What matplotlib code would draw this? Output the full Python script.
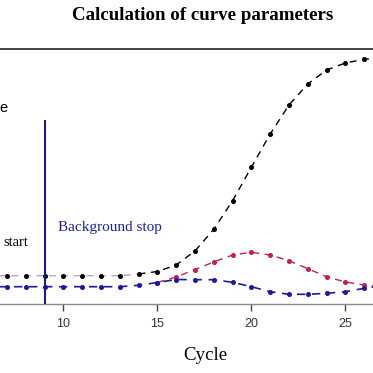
import matplotlib
matplotlib.use("Agg")
import matplotlib.pyplot as plt

cycles = list(range(6, 28))
fit_vals = [28.3, 28.3, 28.3, 28.3, 28.3, 28.3, 28.3, 28.3, 30.0, 32.5, 39.0, 53.0,
            74.7, 103.3, 136.7, 170.0, 199.0, 220.0, 234.0, 241.0, 244.7, 246.5]
red_cycles = list(range(15, 28))
red_vals = [21.5, 27.0, 34.5, 42.0, 49.0, 51.7, 49.0, 43.3, 35.3, 27.3, 22.0, 19.0, 17.0]
blue_vals = [17.3, 17.3, 17.3, 17.3, 17.3, 17.3, 17.3, 17.3, 18.7, 21.5, 24.5, 24.3,
             24.3, 21.7, 17.3, 12.3, 9.7, 9.7, 10.7, 12.3, 15.7, 18.5]
stop_cycle = 9
stop_top = 183
xticks = [10, 15, 20, 25]

serif = ["Liberation Serif", "DejaVu Serif"]
sans = ["Liberation Sans", "DejaVu Sans"]

fig = plt.figure(figsize=(3.73, 3.73), dpi=100)
ax = fig.add_axes([0.0, 1 - 304 / 373, 1.0, (304 - 49) / 373])
ax.set_xlim(6.63, 26.47)
ax.set_ylim(0, 255)

# background segment (grey) and rising part (black) of the curve
split = cycles.index(14)
ax.plot(cycles[:split + 1], fit_vals[:split + 1], color="#b0b0b0", lw=1.0,
        dashes=(5, 4), zorder=2)
ax.plot(cycles[split:], fit_vals[split:], color="black", lw=1.0,
        dashes=(5, 4), zorder=2)
ax.plot(cycles, fit_vals, ls="none", marker="o", ms=2.6, color="black", zorder=3)

ax.plot(red_cycles, red_vals, color="#c8204a", lw=1.0, dashes=(5, 4),
        marker="o", ms=2.6, zorder=2)
ax.plot(cycles, blue_vals, color="#1a1aa0", lw=1.2, dashes=(5, 4),
        marker="o", ms=2.6, zorder=3)

ax.plot([stop_cycle, stop_cycle], [0, stop_top], color="#1c1c8c", lw=1.5, zorder=4)

for s in ["left", "right"]:
    ax.spines[s].set_visible(False)
ax.spines["bottom"].set_color("#8a8a8a")
ax.spines["bottom"].set_linewidth(1.0)
ax.spines["top"].set_color("#222222")
ax.spines["top"].set_linewidth(1.2)

ax.set_yticks([])
ax.set_xticks(xticks)
ax.set_xticklabels([str(t) for t in xticks], fontfamily=sans, fontsize=9, color="#333333")
ax.tick_params(axis="x", direction="out", length=5, width=1, color="#444444", pad=5)

ax.text(9.7, 77, "Background stop", color="#2020a0", fontfamily=serif,
        fontsize=11, va="center", ha="left")
ax.text(6.8, 62, "start", color="black", fontfamily=serif,
        fontsize=10.5, va="center", ha="left")
ax.text(6.6, 196, "e", color="black", fontfamily=sans, fontsize=10.5,
        va="center", ha="left")

fig.text(203 / 373, 1 - 16 / 373, "Calculation of curve parameters",
         fontfamily=serif, fontweight="bold", fontsize=13.6, ha="center", va="center")
fig.text(205 / 373, 1 - 356 / 373, "Cycle", fontfamily=serif, fontsize=13.6,
         ha="center", va="center")

fig.savefig("out.png", dpi=100)
